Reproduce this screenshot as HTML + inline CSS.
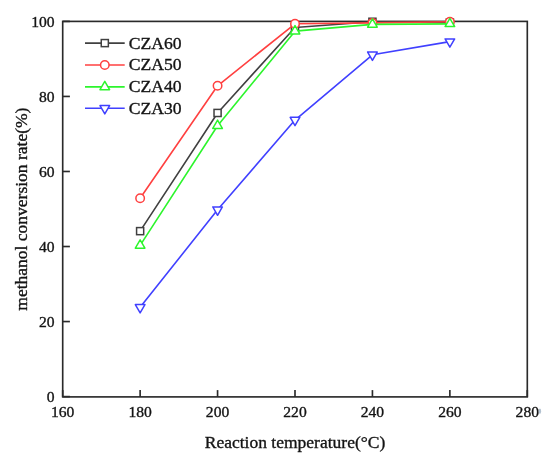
<!DOCTYPE html><html><head><meta charset="utf-8"><style>html,body{margin:0;padding:0;background:#fff;}svg{display:block;}text{font-family:"Liberation Serif","Times New Roman",serif;fill:#141414;stroke:#141414;stroke-width:0.35px;}</style></head><body>
<svg width="550" height="462" viewBox="0 0 550 462">
<rect width="550" height="462" fill="#fff"/>
<rect x="62.7" y="21.4" width="464.60" height="375.50" fill="none" stroke="#2a2a2a" stroke-width="1.65"/>
<line x1="62.70" y1="396.9" x2="62.70" y2="390.10" stroke="#2a2a2a" stroke-width="1.65"/>
<line x1="140.13" y1="396.9" x2="140.13" y2="390.10" stroke="#2a2a2a" stroke-width="1.65"/>
<line x1="217.57" y1="396.9" x2="217.57" y2="390.10" stroke="#2a2a2a" stroke-width="1.65"/>
<line x1="295.00" y1="396.9" x2="295.00" y2="390.10" stroke="#2a2a2a" stroke-width="1.65"/>
<line x1="372.43" y1="396.9" x2="372.43" y2="390.10" stroke="#2a2a2a" stroke-width="1.65"/>
<line x1="449.87" y1="396.9" x2="449.87" y2="390.10" stroke="#2a2a2a" stroke-width="1.65"/>
<line x1="527.30" y1="396.9" x2="527.30" y2="390.10" stroke="#2a2a2a" stroke-width="1.65"/>
<line x1="62.7" y1="396.60" x2="69.9" y2="396.60" stroke="#2a2a2a" stroke-width="1.65"/>
<line x1="62.7" y1="321.56" x2="69.9" y2="321.56" stroke="#2a2a2a" stroke-width="1.65"/>
<line x1="62.7" y1="246.52" x2="69.9" y2="246.52" stroke="#2a2a2a" stroke-width="1.65"/>
<line x1="62.7" y1="171.48" x2="69.9" y2="171.48" stroke="#2a2a2a" stroke-width="1.65"/>
<line x1="62.7" y1="96.44" x2="69.9" y2="96.44" stroke="#2a2a2a" stroke-width="1.65"/>
<line x1="62.7" y1="21.40" x2="69.9" y2="21.40" stroke="#2a2a2a" stroke-width="1.65"/>
<text x="62.70" y="417.3" font-size="15.6" text-anchor="middle">160</text>
<text x="140.13" y="417.3" font-size="15.6" text-anchor="middle">180</text>
<text x="217.57" y="417.3" font-size="15.6" text-anchor="middle">200</text>
<text x="295.00" y="417.3" font-size="15.6" text-anchor="middle">220</text>
<text x="372.43" y="417.3" font-size="15.6" text-anchor="middle">240</text>
<text x="449.87" y="417.3" font-size="15.6" text-anchor="middle">260</text>
<text x="527.30" y="417.3" font-size="15.6" text-anchor="middle">280</text>
<text x="54.6" y="402.00" font-size="15.6" text-anchor="end">0</text>
<text x="54.6" y="326.96" font-size="15.6" text-anchor="end">20</text>
<text x="54.6" y="251.92" font-size="15.6" text-anchor="end">40</text>
<text x="54.6" y="176.88" font-size="15.6" text-anchor="end">60</text>
<text x="54.6" y="101.84" font-size="15.6" text-anchor="end">80</text>
<text x="54.6" y="26.80" font-size="15.6" text-anchor="end">100</text>
<polyline points="140.13,231.14 217.57,112.95 295.00,27.52 372.43,21.78 449.87,22.53" fill="none" stroke="#404040" stroke-width="1.6" stroke-linejoin="round"/>
<rect x="136.58" y="227.59" width="7.1" height="7.1" fill="#fff" stroke="#404040" stroke-width="1.5"/>
<rect x="214.02" y="109.40" width="7.1" height="7.1" fill="#fff" stroke="#404040" stroke-width="1.5"/>
<rect x="291.45" y="23.97" width="7.1" height="7.1" fill="#fff" stroke="#404040" stroke-width="1.5"/>
<rect x="368.88" y="18.23" width="7.1" height="7.1" fill="#fff" stroke="#404040" stroke-width="1.5"/>
<rect x="446.32" y="18.98" width="7.1" height="7.1" fill="#fff" stroke="#404040" stroke-width="1.5"/>
<polyline points="140.13,198.31 217.57,85.78 295.00,23.80 372.43,22.90 449.87,21.78" fill="none" stroke="#ff4040" stroke-width="1.6" stroke-linejoin="round"/>
<circle cx="140.13" cy="198.31" r="4.25" fill="#fff" stroke="#ff4040" stroke-width="1.5"/>
<circle cx="217.57" cy="85.78" r="4.25" fill="#fff" stroke="#ff4040" stroke-width="1.5"/>
<circle cx="295.00" cy="23.80" r="4.25" fill="#fff" stroke="#ff4040" stroke-width="1.5"/>
<circle cx="372.43" cy="22.90" r="4.25" fill="#fff" stroke="#ff4040" stroke-width="1.5"/>
<circle cx="449.87" cy="21.78" r="4.25" fill="#fff" stroke="#ff4040" stroke-width="1.5"/>
<polyline points="140.13,245.39 217.57,125.71 295.00,31.16 372.43,24.40 449.87,23.84" fill="none" stroke="#2cf52c" stroke-width="1.6" stroke-linejoin="round"/>
<polygon points="140.13,239.85 144.93,248.17 135.33,248.17" fill="#fff" stroke="#2cf52c" stroke-width="1.5" stroke-linejoin="round"/>
<polygon points="217.57,120.16 222.37,128.48 212.77,128.48" fill="#fff" stroke="#2cf52c" stroke-width="1.5" stroke-linejoin="round"/>
<polygon points="295.00,25.61 299.80,33.93 290.20,33.93" fill="#fff" stroke="#2cf52c" stroke-width="1.5" stroke-linejoin="round"/>
<polygon points="372.43,18.86 377.23,27.17 367.63,27.17" fill="#fff" stroke="#2cf52c" stroke-width="1.5" stroke-linejoin="round"/>
<polygon points="449.87,18.30 454.67,26.61 445.07,26.61" fill="#fff" stroke="#2cf52c" stroke-width="1.5" stroke-linejoin="round"/>
<polyline points="140.13,307.30 217.57,209.75 295.00,120.08 372.43,54.79 449.87,41.66" fill="none" stroke="#4040ff" stroke-width="1.6" stroke-linejoin="round"/>
<polygon points="135.33,304.53 144.93,304.53 140.13,312.84" fill="#fff" stroke="#4040ff" stroke-width="1.5" stroke-linejoin="round"/>
<polygon points="212.77,206.98 222.37,206.98 217.57,215.29" fill="#fff" stroke="#4040ff" stroke-width="1.5" stroke-linejoin="round"/>
<polygon points="290.20,117.31 299.80,117.31 295.00,125.62" fill="#fff" stroke="#4040ff" stroke-width="1.5" stroke-linejoin="round"/>
<polygon points="367.63,52.02 377.23,52.02 372.43,60.34" fill="#fff" stroke="#4040ff" stroke-width="1.5" stroke-linejoin="round"/>
<polygon points="445.07,38.89 454.67,38.89 449.87,47.20" fill="#fff" stroke="#4040ff" stroke-width="1.5" stroke-linejoin="round"/>
<line x1="85" y1="43.1" x2="124.7" y2="43.1" stroke="#404040" stroke-width="1.6"/>
<rect x="101.25" y="39.55" width="7.1" height="7.1" fill="#fff" stroke="#404040" stroke-width="1.5"/>
<text x="128.8" y="48.50" font-size="17.6">CZA60</text>
<line x1="85" y1="65.0" x2="124.7" y2="65.0" stroke="#ff4040" stroke-width="1.6"/>
<circle cx="104.80" cy="65.00" r="4.25" fill="#fff" stroke="#ff4040" stroke-width="1.5"/>
<text x="128.8" y="70.40" font-size="17.6">CZA50</text>
<line x1="85" y1="86.9" x2="124.7" y2="86.9" stroke="#2cf52c" stroke-width="1.6"/>
<polygon points="104.80,81.36 109.60,89.67 100.00,89.67" fill="#fff" stroke="#2cf52c" stroke-width="1.5" stroke-linejoin="round"/>
<text x="128.8" y="92.30" font-size="17.6">CZA40</text>
<line x1="85" y1="108.3" x2="124.7" y2="108.3" stroke="#4040ff" stroke-width="1.6"/>
<polygon points="100.00,105.53 109.60,105.53 104.80,113.84" fill="#fff" stroke="#4040ff" stroke-width="1.5" stroke-linejoin="round"/>
<text x="128.8" y="113.70" font-size="17.6">CZA30</text>
<text x="295" y="448.2" font-size="17.5" text-anchor="middle">Reaction temperature(°C)</text>
<text transform="translate(26.9,209.1) rotate(-90)" font-size="17.5" text-anchor="middle">methanol conversion rate(%)</text>
<rect x="539" y="400" width="11" height="25" fill="#fff"/>
<ellipse cx="539.9" cy="411.3" rx="1.2" ry="2.8" fill="#9fb2c4" opacity="0.8"/>
</svg></body></html>
